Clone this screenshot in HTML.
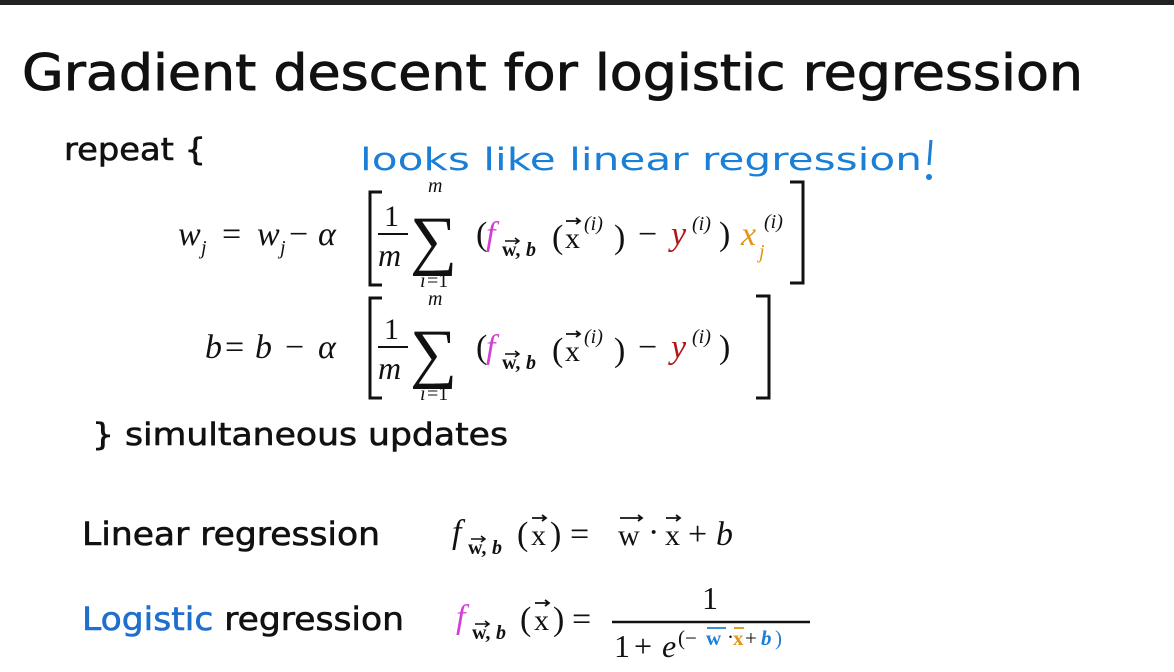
<!DOCTYPE html>
<html><head><meta charset="utf-8"><style>
html,body{margin:0;padding:0;background:#fff;}
svg{display:block;}
.s{font-family:"DejaVu Sans","Liberation Sans",sans-serif;fill:#111;stroke:#111;stroke-width:0.6;}
.m{font-family:"Liberation Serif",serif;font-style:italic;fill:#111;}
.r{font-family:"Liberation Serif",serif;fill:#111;}
.h{font-family:"DejaVu Sans",sans-serif;fill:#1a7fd6;}
.bm{font-family:"Liberation Serif",serif;font-weight:bold;fill:#111;}
.pk{fill:#d23fd2 !important;}
.rd{fill:#b3161a !important;}
.or{fill:#e39410 !important;}
.bl{fill:#1f7fd6 !important;}
</style></head><body>
<svg width="1174" height="672" viewBox="0 0 1174 672" xmlns="http://www.w3.org/2000/svg">
<rect x="0" y="0" width="1174" height="5" fill="#222"/>
<text class="s" x="22" y="90" font-size="50" textLength="1061" lengthAdjust="spacingAndGlyphs" style="stroke-width:0.9">Gradient descent for logistic regression</text>
<text class="s" x="64" y="160" font-size="31" textLength="142" lengthAdjust="spacingAndGlyphs">repeat {</text>
<text class="h" x="360" y="170" font-size="31" textLength="562" lengthAdjust="spacingAndGlyphs">looks like linear regression</text>
<line x1="931" y1="140" x2="929" y2="165" stroke="#1a7fd6" stroke-width="3"/>
<circle cx="929" cy="177" r="3" fill="#1a7fd6"/>

<!-- equation 1 -->
<g>
<text class="m" x="178" y="245" font-size="34">w</text>
<text class="m" x="201" y="254" font-size="20">j</text>
<text class="r" x="222" y="245" font-size="34">=</text>
<text class="m" x="257" y="245" font-size="34">w</text>
<text class="m" x="280" y="254" font-size="20">j</text>
<text class="r" x="289" y="245" font-size="34">−</text>
<text class="m" x="318" y="245" font-size="34">α</text>
<path d="M382 192 H370 V285 H382" fill="none" stroke="#111" stroke-width="3"/>
<text class="r" x="384" y="226" font-size="30">1</text>
<line x1="378" y1="234" x2="408" y2="234" stroke="#111" stroke-width="2"/>
<text class="m" x="378" y="266" font-size="32">m</text>
<text class="r" x="410" y="262" font-size="66">∑</text>
<text class="m" x="428" y="192" font-size="20">m</text>
<text class="m" x="420" y="287" font-size="20">i</text><text class="r" x="427" y="287" font-size="20">=1</text>
<text class="r" x="476" y="245" font-size="34">(</text>
<text class="m pk" x="486" y="245" font-size="34">f</text>
<text class="bm" x="502" y="256" font-size="20">w,</text><text class="m" x="526" y="256" font-size="20" font-weight="bold">b</text>
<path d="M505 241 H519 M515 238 L519 241 L515 244" stroke="#111" stroke-width="1.5" fill="none"/>
<text class="r" x="552" y="248" font-size="34">(</text>
<text class="r" x="565" y="248" font-size="30">x</text>
<path d="M566 221 H580 M576 218 L580 221 L576 224" stroke="#111" stroke-width="1.8" fill="none"/>
<text class="m" x="584" y="230" font-size="20">(i)</text>
<text class="r" x="614" y="248" font-size="34">)</text>
<text class="r" x="638" y="245" font-size="34">−</text>
<text class="m rd" x="671" y="245" font-size="34">y</text>
<text class="m" x="692" y="230" font-size="20">(i)</text>
<text class="r" x="719" y="245" font-size="34">)</text>
<text class="m or" x="741" y="245" font-size="34">x</text>
<text class="m or" x="759" y="258" font-size="20">j</text>
<text class="m" x="764" y="228" font-size="20">(i)</text>
<path d="M790 182 H803 V283 H790" fill="none" stroke="#111" stroke-width="3"/>
</g>

<!-- equation 2 -->
<g>
<text class="m" x="205" y="358" font-size="34">b</text>
<text class="r" x="225" y="358" font-size="34">=</text>
<text class="m" x="255" y="358" font-size="34">b</text>
<text class="r" x="285" y="358" font-size="34">−</text>
<text class="m" x="318" y="358" font-size="34">α</text>
<path d="M382 298 H370 V398 H382" fill="none" stroke="#111" stroke-width="3"/>
<text class="r" x="384" y="339" font-size="30">1</text>
<line x1="378" y1="347" x2="408" y2="347" stroke="#111" stroke-width="2"/>
<text class="m" x="378" y="379" font-size="32">m</text>
<text class="r" x="410" y="375" font-size="66">∑</text>
<text class="m" x="428" y="305" font-size="20">m</text>
<text class="m" x="420" y="400" font-size="20">i</text><text class="r" x="427" y="400" font-size="20">=1</text>
<text class="r" x="476" y="358" font-size="34">(</text>
<text class="m pk" x="486" y="358" font-size="34">f</text>
<text class="bm" x="502" y="369" font-size="20">w,</text><text class="m" x="526" y="369" font-size="20" font-weight="bold">b</text>
<path d="M505 354 H519 M515 351 L519 354 L515 357" stroke="#111" stroke-width="1.5" fill="none"/>
<text class="r" x="552" y="361" font-size="34">(</text>
<text class="r" x="565" y="361" font-size="30">x</text>
<path d="M566 334 H580 M576 331 L580 334 L576 337" stroke="#111" stroke-width="1.8" fill="none"/>
<text class="m" x="584" y="343" font-size="20">(i)</text>
<text class="r" x="614" y="361" font-size="34">)</text>
<text class="r" x="638" y="358" font-size="34">−</text>
<text class="m rd" x="671" y="358" font-size="34">y</text>
<text class="m" x="692" y="343" font-size="20">(i)</text>
<text class="r" x="719" y="358" font-size="34">)</text>
<path d="M756 296 H769 V398 H756" fill="none" stroke="#111" stroke-width="3"/>
</g>

<text class="s" x="92" y="445" font-size="31" textLength="416" lengthAdjust="spacingAndGlyphs">} simultaneous updates</text>

<text class="s" x="82" y="545" font-size="32" textLength="298" lengthAdjust="spacingAndGlyphs">Linear regression</text>
<g>
<text class="m" x="452" y="543" font-size="34">f</text>
<text class="bm" x="468" y="554" font-size="20">w,</text><text class="m" x="492" y="554" font-size="20" font-weight="bold">b</text>
<path d="M471 539 H485 M481 536 L485 539 L481 542" stroke="#111" stroke-width="1.5" fill="none"/>
<text class="r" x="517" y="545" font-size="34">(</text>
<text class="r" x="531" y="545" font-size="30">x</text>
<path d="M532 518 H546 M542 515 L546 518 L542 521" stroke="#111" stroke-width="1.8" fill="none"/>
<text class="r" x="550" y="545" font-size="34">)</text>
<text class="r" x="570" y="545" font-size="34">=</text>
<text class="r" x="618" y="545" font-size="30">w</text>
<path d="M620 518 H642 M638 515 L642 518 L638 521" stroke="#111" stroke-width="1.8" fill="none"/>
<text class="r" x="648" y="543" font-size="34">·</text>
<text class="r" x="665" y="545" font-size="30">x</text>
<path d="M666 518 H680 M676 515 L680 518 L676 521" stroke="#111" stroke-width="1.8" fill="none"/>
<text class="r" x="688" y="545" font-size="34">+</text>
<text class="m" x="716" y="545" font-size="34">b</text>
</g>

<text class="s" x="82" y="630" font-size="32" textLength="322" lengthAdjust="spacingAndGlyphs"><tspan style="fill:#1f6fcc;stroke:#1f6fcc">Logistic</tspan> regression</text>
<g>
<text class="m pk" x="456" y="628" font-size="34">f</text>
<text class="bm" x="472" y="639" font-size="20">w,</text><text class="m" x="496" y="639" font-size="20" font-weight="bold">b</text>
<path d="M475 624 H489 M485 621 L489 624 L485 627" stroke="#111" stroke-width="1.5" fill="none"/>
<text class="r" x="520" y="630" font-size="34">(</text>
<text class="r" x="534" y="630" font-size="30">x</text>
<path d="M535 603 H549 M545 600 L549 603 L545 606" stroke="#111" stroke-width="1.8" fill="none"/>
<text class="r" x="553" y="630" font-size="34">)</text>
<text class="r" x="572" y="630" font-size="34">=</text>
<text class="r" x="702" y="609" font-size="32">1</text>
<line x1="612" y1="622" x2="810" y2="622" stroke="#111" stroke-width="2.5"/>
<text class="r" x="614" y="657" font-size="32">1</text>
<text class="r" x="634" y="657" font-size="32">+</text>
<text class="m" x="662" y="657" font-size="32">e</text>
<text class="r" x="678" y="645" font-size="21">(−</text>
<text class="bm bl" x="706" y="645" font-size="21">w</text>
<line x1="707" y1="628" x2="726" y2="628" stroke="#1f7fd6" stroke-width="1.8"/>
<text class="r" x="727" y="644" font-size="21">·</text>
<text class="bm or" x="733" y="645" font-size="21">x</text>
<line x1="734" y1="628" x2="744" y2="628" stroke="#e39410" stroke-width="1.8"/>
<text class="r" x="745" y="645" font-size="21">+</text>
<text class="m bl" x="761" y="645" font-size="21" font-weight="bold">b</text>
<text class="r bl" x="775" y="645" font-size="21">)</text>
</g>
</svg>
</body></html>
